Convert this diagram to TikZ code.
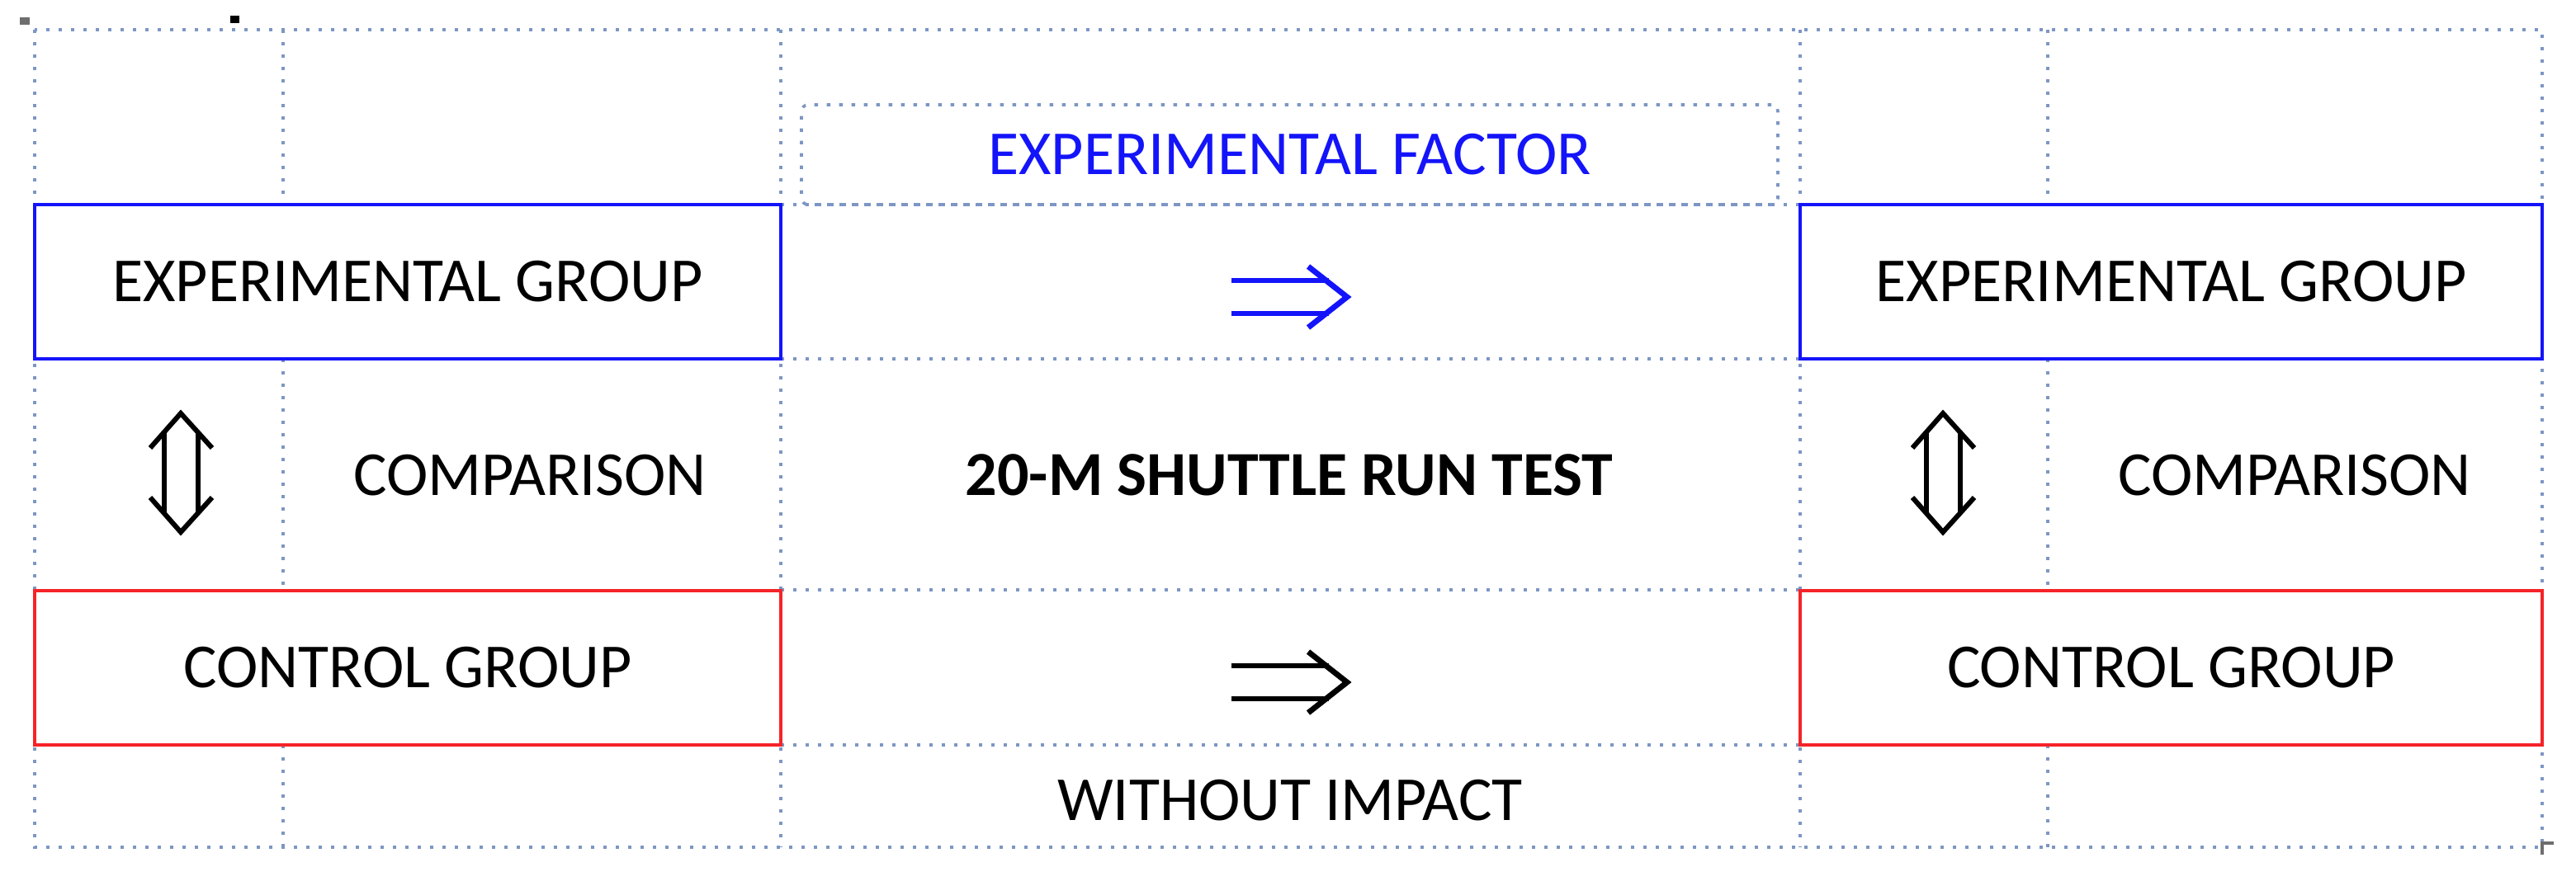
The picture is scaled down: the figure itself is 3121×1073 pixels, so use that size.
\documentclass[tikz,border=0pt]{standalone}
\usepackage{fontspec}
\setmainfont{Carlito}
\definecolor{gridc}{RGB}{125,150,195}
\definecolor{myblue}{RGB}{20,20,250}
\definecolor{myred}{RGB}{245,35,40}
\definecolor{handle}{RGB}{110,110,110}
\begin{document}
\begin{tikzpicture}[x=0.25pt,y=-0.25pt,
  gridline/.style={draw=gridc,line width=0.9pt,dash pattern=on 1.1pt off 2.65pt},
  txt/.style={font=\fontsize{19}{23}\selectfont,inner sep=0pt,outer sep=0pt},
  boldtxt/.style={txt,font=\fontsize{19}{23}\selectfont\bfseries},
  groupbox/.style={txt,draw,fill=white,line width=1pt,minimum height=46.75pt},
  expbox/.style={groupbox,draw=myblue},
  ctrlbox/.style={groupbox,draw=myred},
  efbox/.style={txt,gridline,rounded corners=2pt,minimum width=295.75pt,minimum height=30.25pt,text=myblue},
  symb/.style={line width=1.5pt,line join=miter,line cap=butt},
  pics/dblright/.style={code={
    \draw[symb,#1,line width=1.6pt] (-70,-20) -- (48,-20) (-70,20) -- (48,20);
    \draw[symb,#1,line width=1.7pt] (23,-37) -- (70,0) -- (23,37);
  }},
  pics/updown/.style={code={
    \draw[symb] (-37,-30) -- (0,-72) -- (38,-30);
    \draw[symb] (-37,30) -- (0,72) -- (38,30);
    \draw[symb] (-20,-49) -- (-20,49) (21,-49) -- (21,49);
  }}
]
\useasboundingbox (0,0) rectangle (3121,1073);
% table grid
\draw[gridline] (42,36) rectangle (3080,1027);
\foreach \xx in {343,2481}{
  \draw[gridline] (\xx,36) -- (\xx,248) (\xx,435) -- (\xx,715) (\xx,903) -- (\xx,1027);
}
\draw[gridline] (946,36) -- (946,1027) (2181,36) -- (2181,1027);
\draw[gridline] (946,248) -- (2181,248) (946,435) -- (2181,435)
                (946,715) -- (2181,715) (946,903) -- (2181,903);
% table handles
\fill[handle] (24,21) rectangle (36,30);
\fill[black] (279,19) rectangle (290,28);
\draw[handle,line width=1pt] (3094,1022) -- (3080,1022) -- (3080,1036);
% boxes
\node[efbox] (ef) at (1562.5,187.5) {EXPERIMENTAL FACTOR};
\node[expbox,minimum width=226pt] (egl) at (494,341.5) {EXPERIMENTAL GROUP};
\node[expbox,minimum width=224.75pt] (egr) at (2630.5,341.5) {EXPERIMENTAL GROUP};
\node[ctrlbox,minimum width=226pt] (cgl) at (494,809) {CONTROL GROUP};
\node[ctrlbox,minimum width=224.75pt] (cgr) at (2630.5,809) {CONTROL GROUP};
% texts
\node[txt] (cmpl) at (642,576) {COMPARISON};
\node[txt] (cmpr) at (2780,576) {COMPARISON};
\node[boldtxt] (test) at (1562,576) {20-M SHUTTLE RUN TEST};
\node[txt] (wi) at (1563,970) {WITHOUT IMPACT};
% symbols
\pic at (1562,360) {dblright=myblue};
\pic at (1562,827) {dblright=black};
\pic at (219,573) {updown};
\pic at (2354,573) {updown};
\end{tikzpicture}
\end{document}
